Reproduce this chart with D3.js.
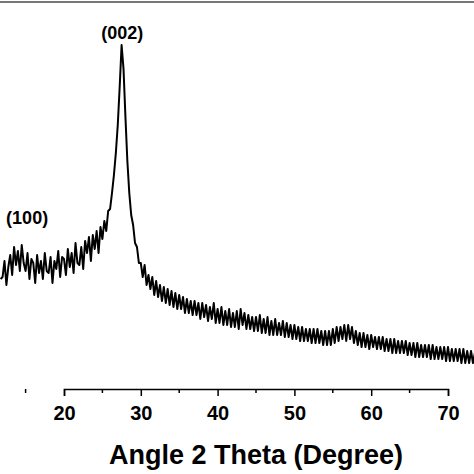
<!DOCTYPE html>
<html><head><meta charset="utf-8">
<script src="https://cdn.jsdelivr.net/npm/d3@7"></script>
<style>body{margin:0;background:#fff}svg{display:block}</style>
</head><body>
<script>
const startAngle = 11.75, stepAngle = 0.25;
const intensity = [110,
112,128,104,122, 134,114,142,124, 138,118,144,126, 118,136,110,130,
126,106,134,116, 128,110,136,118, 116,132,106,128, 120,138,112,132,
130,114,140,122, 136,116,146,126, 124,142,120,148, 136,152,128,154,
140,158,136,162, 150,168,158,178, 180,196,214,236, 264,302,344,320,
272,228,196,174, 164,146,142,126, 126,112,124,104, 114,100,112,94,
108,92,104,88, 102,86,100,84, 98,82,96,80, 94,80,92,76,
90,76,88,74, 88,74,86,70, 86,72,84,68, 82,70,86,66,
80,66,82,64, 78,64,80,62, 76,62,78,60, 80,64,76,60,
74,60,72,58, 72,58,74,56, 70,56,72,54, 68,54,70,54,
66,54,68,52, 66,52,64,50, 64,50,62,48, 62,48,60,48,
60,46,60,46, 60,46,58,44, 58,44,58,44, 60,46,62,48,
62,50,64,48, 64,50,62,46, 58,44,56,42, 56,42,54,40,
54,42,52,40, 52,40,52,38, 50,38,50,36, 50,36,48,36,
48,36,48,34, 46,34,46,32, 46,32,44,32, 44,32,44,30,
44,30,42,30, 42,30,42,28, 42,28,40,28, 40,28,40,26,
40,26,38,26, 38,26,36,24, 32];
const majorTicks = [10,20,30,40,50,60,70];
const peakLabels = ["(002)","(100)"];
const peakAngles = [27.6, 15.2];
const peakHeights = [350, 165];
const xTitle = "Angle 2 Theta (Degree)";

const W=474,H=474;
const F="Liberation Sans, Arial, sans-serif";
const svg=d3.select("body").append("svg").attr("width",W).attr("height",H);
const x=d3.scaleLinear().domain([20,70]).range([64,448]);
const y=d3.scaleLinear().domain([0,350]).range([389,39]);
const pts=intensity.map((v,i)=>[startAngle+i*stepAngle,v]);

svg.append("line").attr("x1",0).attr("x2",W).attr("y1",2).attr("y2",2).attr("stroke","#777").attr("stroke-width",2);

svg.append("path").datum(pts).attr("fill","none").attr("stroke","#000").attr("stroke-width",2)
  .attr("stroke-linejoin","round")
  .attr("d",d3.line().x(d=>x(d[0])).y(d=>y(d[1])));

const ax=svg.append("g").attr("transform","translate(0,389)")
  .call(d3.axisBottom(x).tickValues(majorTicks).tickSize(7).tickPadding(10).tickFormat(d3.format("d")));
ax.select(".domain").attr("stroke","#000").attr("stroke-width",1.5);
ax.selectAll(".tick line").attr("stroke-width",1.5);
ax.selectAll("text").attr("font-family",F).attr("font-weight","bold").attr("font-size",20).attr("fill","#000");
const minor=d3.range(15,80,10);
svg.append("g").selectAll("line").data(minor).join("line")
  .attr("x1",d=>x(d)).attr("x2",d=>x(d)).attr("y1",389).attr("y2",393).attr("stroke","#000").attr("stroke-width",1.5);

svg.append("text").attr("x",256).attr("y",464).attr("text-anchor","middle")
  .attr("font-family",F).attr("font-weight","bold").attr("font-size",27).text(xTitle);

svg.append("g").selectAll("text").data(peakLabels).join("text")
  .attr("x",(d,i)=>x(peakAngles[i])).attr("y",(d,i)=>y(peakHeights[i]))
  .attr("text-anchor","middle").attr("font-family",F)
  .attr("font-weight","bold").attr("font-size",18).text(d=>d);
</script>
</body></html>
